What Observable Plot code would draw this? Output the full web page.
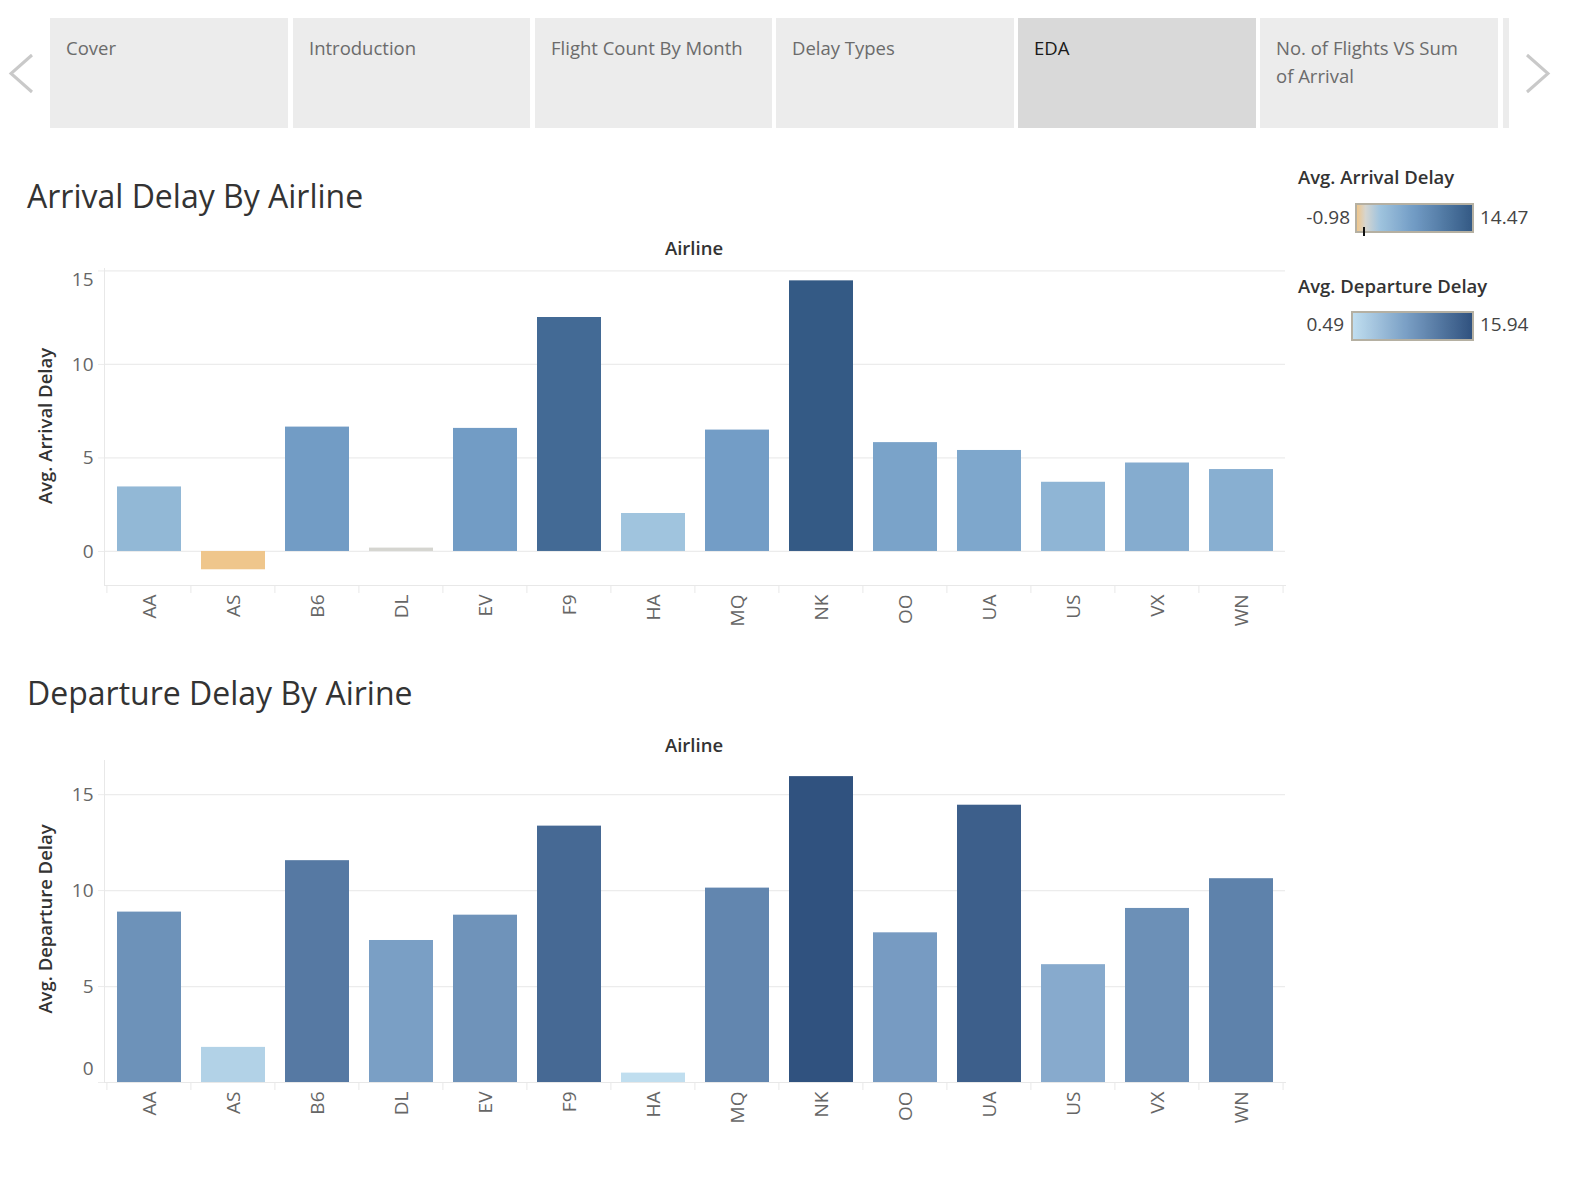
<!DOCTYPE html>
<html>
<head>
<meta charset="utf-8">
<script src="https://cdn.jsdelivr.net/npm/d3@7"></script>
<script src="https://cdn.jsdelivr.net/npm/@observablehq/plot@0.6"></script>
<style>
  html { overflow: hidden; }
  body { margin: 0; background: #fff; font-family: "Open Sans", sans-serif; width: 1586px; height: 1184px; position: relative; overflow: hidden; }
  .tab { position: absolute; top: 18px; height: 110px; width: 238px; background: #ececec; box-sizing: border-box; padding: 16px 16px 0 16px; font-size: 18.5px; line-height: 28px; color: #6b6b6b; }
  .tab span { display: block; max-width: 200px; }
  .tab.sel { background: #d9d9d9; color: #1a1a1a; }
  .title { position: absolute; left: 27px; font-size: 32px; line-height: 40px; color: #333; font-weight: 400; white-space: nowrap; }
  .hdr { position: absolute; left: 594px; width: 200px; text-align: center; font-size: 18.5px; line-height: 24px; font-weight: 600; color: #333; }
  .ytl { position: absolute; width: 300px; text-align: center; font-size: 18.5px; line-height: 24px; font-weight: 600; color: #333; transform: rotate(-90deg); white-space: nowrap; }
  .lgt { position: absolute; left: 1298px; font-size: 18.5px; line-height: 24px; font-weight: 600; color: #333; white-space: nowrap; }
  .lgn { position: absolute; font-size: 19px; line-height: 24px; color: #444; white-space: nowrap; }
  .box { position: absolute; height: 30px; box-sizing: border-box; border: 2px solid #b5b0a2; }
  .chart { position: absolute; left: 0; line-height: 0; }
</style>
</head>
<body>
<svg style="position:absolute;top:0;left:0" width="1586" height="140">
  <polyline points="32,55 11,73.5 32,92" fill="none" stroke="#c9c9c9" stroke-width="3"/>
  <polyline points="1527,55 1548,73.5 1527,92" fill="none" stroke="#c9c9c9" stroke-width="3"/>
</svg>
<div id="tabs"></div>
<div class="title" style="top:176px">Arrival Delay By Airline</div>
<div class="hdr" style="top:236px">Airline</div>
<div class="title" style="top:673px">Departure Delay By Airine</div>
<div class="hdr" style="top:733px">Airline</div>
<div id="chart1" class="chart" style="top:258px"></div>
<div id="chart2" class="chart" style="top:750px"></div>
<div id="ylab1" class="ytl" style="left:-105px;top:414px"></div>
<div id="ylab2" class="ytl" style="left:-105px;top:907px"></div>
<div id="legend"></div>
<script>
// ---- data ----
const tabNames = ["Cover", "Introduction", "Flight Count By Month", "Delay Types", "EDA", "No. of Flights VS Sum of Arrival", ""];
const selectedTab = "EDA";
const airlines = ["AA","AS","B6","DL","EV","F9","HA","MQ","NK","OO","UA","US","VX","WN"];
const avgArrivalDelay   = [3.45, -0.98, 6.65, 0.18, 6.58, 12.51, 2.03, 6.49, 14.47, 5.82, 5.40, 3.70, 4.73, 4.38];
const avgDepartureDelay = [8.88, 1.83, 11.56, 7.40, 8.72, 13.36, 0.49, 10.13, 15.94, 7.80, 14.45, 6.14, 9.07, 10.62];
const yTicks1 = [0, 5, 10, 15];
const yTicks2 = [0, 5, 10, 15];
const arrLegend = ["-0.98", "14.47"];
const depLegend = ["0.49", "15.94"];
const yTitles = ["Avg. Arrival Delay", "Avg. Departure Delay"];

// ---- tabs ----
const tabLefts = [50, 293, 535, 776, 1018, 1260, 1503];
const tabWidths = [238, 237, 237, 238, 238, 238, 6];
const tabsDiv = document.getElementById("tabs");
tabNames.forEach((t, i) => {
  const d = document.createElement("div");
  d.className = "tab" + (t === selectedTab ? " sel" : "");
  d.style.left = tabLefts[i] + "px";
  d.style.width = tabWidths[i] + "px";
  if (i === tabNames.length - 1) d.style.padding = "0";
  const s = document.createElement("span");
  s.textContent = t;
  d.appendChild(s);
  tabsDiv.appendChild(d);
});
document.getElementById("ylab1").textContent = yTitles[0];
document.getElementById("ylab2").textContent = yTitles[1];

// ---- colour scales ----
const arrColor = {type: "linear", domain: [-0.98, 0.2, 2.03, 6.6, 14.47],
  range: ["#efc68c", "#d5d5d1", "#a0c4de", "#729cc5", "#345a85"], interpolate: "rgb"};
const depColor = {type: "linear", domain: [0.49, 7.4, 15.94],
  range: ["#c0deef", "#7a9fc5", "#30527f"], interpolate: "rgb"};

function chart(values, o) {
  const data = airlines.map((a, i) => ({airline: a, value: values[i]}));
  const W = 1290, ML = 104, MR = 5;
  const padIn = 0.24, padOut = 0.12;
  return Plot.plot({
    width: W, height: o.height,
    marginLeft: ML, marginRight: MR, marginTop: o.mt, marginBottom: o.mb,
    style: {fontFamily: "Open Sans", background: "transparent", overflow: "visible"},
    x: {domain: airlines, paddingInner: padIn, paddingOuter: padOut, axis: null},
    y: {domain: o.yDomain, axis: null},
    color: o.color,
    marks: [
      Plot.gridY(o.ticks, {stroke: "#ececec", strokeOpacity: 1, strokeWidth: 1.2}),
      Plot.axisY(o.ticks, {tickSize: 6, tickPadding: 5, stroke: "#ececec", fill: "#666", fontSize: 19,
        tickFormat: (d) => d === o.edge ? "" : String(d), label: null}),
      Plot.text([o.edge], {y: (d) => d, frameAnchor: "left", textAnchor: "end", dx: -11, dy: o.edgeDy,
        fill: "#666", fontSize: 19, text: (d) => String(d)}),
      Plot.frame({anchor: "left", stroke: "#e8e8e8"}),
      Plot.frame({anchor: "bottom", stroke: "#e8e8e8"}),
      // header dividers under the axis, at the edges of each airline band
      Plot.ruleX(airlines, {x: (d) => d, stroke: "#e8e8e8",
        render: (index, scales, values, dims) => {
          const step = scales.x.step ? scales.x.step() : (dims.width - ML - MR) / airlines.length;
          const yb = dims.height - dims.marginBottom;
          const g = d3.create("svg:g");
          const xs = airlines.map((a) => scales.x(a) - step * padIn / 2);
          xs.push(scales.x(airlines[airlines.length - 1]) + scales.x.bandwidth() + step * padIn / 2);
          g.selectAll("line").data(xs).join("line")
            .attr("x1", (d) => d).attr("x2", (d) => d)
            .attr("y1", yb).attr("y2", yb + 8)
            .attr("stroke", "#e8e8e8");
          return g.node();
        }}),
      Plot.barY(data, {x: "airline", y: "value", fill: "value"}),
      Plot.axisX({tickRotate: -90, tickSize: 0, tickPadding: 9, fill: "#666", fontSize: 19, label: null})
    ]
  });
}

document.getElementById("chart1").appendChild(chart(avgArrivalDelay, {
  height: 372, mt: 10, mb: 45, yDomain: [-1.82, 15.13], ticks: yTicks1, edge: 15, edgeDy: 9,
  color: arrColor
}));
document.getElementById("chart2").appendChild(chart(avgDepartureDelay, {
  height: 380, mt: 10, mb: 48, yDomain: [0, 16.78], ticks: yTicks2, edge: 0, edgeDy: -14,
  color: depColor
}));

// ---- legends ----
function gradient(spec) {
  const s = Plot.scale({color: spec});
  const lo = spec.domain[0], hi = spec.domain[spec.domain.length - 1];
  const stops = d3.range(41).map((i) => {
    const v = lo + (hi - lo) * i / 40;
    return `${s.apply(v)} ${(i / 40 * 100).toFixed(1)}%`;
  });
  return `linear-gradient(to right, ${stops.join(",")})`;
}
const lg = document.getElementById("legend");
const zeroPos = 1355 + 2 + (0 - arrColor.domain[0]) / (arrColor.domain[4] - arrColor.domain[0]) * 115 - 1;
lg.innerHTML = `
  <div class="lgt" style="top:165px">Avg. Arrival Delay</div>
  <div class="lgn" style="top:205px;left:1270px;width:80px;text-align:right">${arrLegend[0]}</div>
  <div class="box" style="top:203px;left:1355px;width:119px;background:${gradient(arrColor)}"></div>
  <div style="position:absolute;top:227px;left:${zeroPos}px;width:2px;height:9px;background:#111"></div>
  <div class="lgn" style="top:205px;left:1480px">${arrLegend[1]}</div>
  <div class="lgt" style="top:274px">Avg. Departure Delay</div>
  <div class="lgn" style="top:312px;left:1264px;width:80px;text-align:right">${depLegend[0]}</div>
  <div class="box" style="top:311px;left:1351px;width:123px;background:${gradient(depColor)}"></div>
  <div class="lgn" style="top:312px;left:1480px">${depLegend[1]}</div>
`;
</script>
</body>
</html>
